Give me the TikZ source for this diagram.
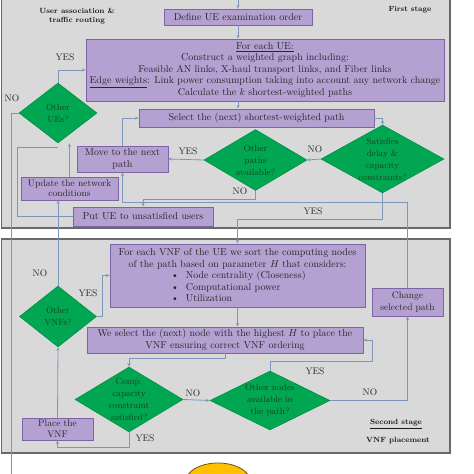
\documentclass[tikz,border=0pt]{standalone}
\usetikzlibrary{shapes.geometric,arrows.meta,calc}
\definecolor{panelfill}{RGB}{217,217,217}
\definecolor{paneldraw}{RGB}{105,105,105}
\definecolor{boxfill}{RGB}{181,160,210}
\definecolor{boxdraw}{RGB}{125,100,165}
\definecolor{dfill}{RGB}{0,166,81}
\definecolor{ddraw}{RGB}{0,140,65}
\definecolor{dtext}{RGB}{20,70,30}
\definecolor{conncol}{RGB}{125,150,185}
\definecolor{efill}{RGB}{255,192,0}
\definecolor{edraw}{RGB}{110,85,20}
\begin{document}
\begin{tikzpicture}[x=1pt,y=-1pt,
 box/.style={draw=boxdraw,fill=boxfill,line width=0.9pt,inner sep=1pt,align=center,font=\fontsize{10}{11.5}\selectfont,text=black!85},
 dia/.style={diamond,draw=ddraw,fill=dfill,line width=0.5pt,inner sep=-8pt,align=center,font=\fontsize{9}{12}\selectfont,text=dtext},
 link/.style={draw=conncol,line width=0.8pt},
 arr/.style={link,-{Stealth[length=3.5pt,width=3pt]}},
 lab/.style={font=\fontsize{9.5}{10}\selectfont,text=black!85},
 stg/.style={font=\fontsize{7.5}{9.5}\selectfont\bfseries,align=center,text=black!90}]
\useasboundingbox (0,0) rectangle (474,474);
\fill[white] (0,0) rectangle (474,474);
% panels
\draw[paneldraw,fill=panelfill,line width=1.2pt] (1.5,-5) rectangle (450,228);
\draw[paneldraw,fill=panelfill,line width=1.2pt] (1.5,239) rectangle (450,453);
% stage labels
\node[stg] (lbl1) at (77,16) {User association \&\\traffic routing};
\node[stg] (lbl2) at (410,10) {First stage};
\node[stg] (lbl3) at (396,424) {\underline{Second stage}};
\node[stg] (lbl4) at (398,441) {VNF placement};
% boxes
\node[box,minimum width=148pt,minimum height=16pt] (define) at (238,17) {Define UE examination order};
\node[box,minimum width=358pt,minimum height=62pt] (uebox) at (265,70) {\underline{For each UE:}\\Construct a weighted graph including:\\Feasible AN links, X-haul transport links, and Fiber links\\\underline{Edge weights}: Link power consumption taking into account any network change\\Calculate the $k$ shortest-weighted paths};
\node[box,minimum width=235pt,minimum height=18pt] (select) at (256.5,118) {Select the (next) shortest-weighted path};
\node[box,minimum width=91pt,minimum height=26pt] (move) at (122.5,159) {Move to the next\\path};
\node[box,minimum width=97pt,minimum height=23pt,font=\fontsize{9.5}{10.5}\selectfont] (update) at (69.5,188.5) {Update the network\\conditions};
\node[box,minimum width=140pt,minimum height=19pt] (putue) at (143,216.5) {Put UE to unsatisfied users};
\node[box,minimum width=71pt,minimum height=28pt,font=\fontsize{9.5}{12.5}\selectfont] (change) at (407.5,302) {Change\\selected path};
\node[box,minimum width=255pt,minimum height=63pt] (vnfbox) at (237.5,275.5) {For each VNF of the UE we sort the computing nodes\\of the path based on parameter $H$ that considers:\\\makebox[133pt][l]{\textbullet\hspace{7pt}Node centrality (Closeness)}\\\makebox[133pt][l]{\textbullet\hspace{7pt}Computational power}\\\makebox[133pt][l]{\textbullet\hspace{7pt}Utilization}};
\node[box,minimum width=276pt,minimum height=26pt] (selnode) at (225,340) {We select the (next) node with the highest $H$ to place the\\VNF ensuring correct VNF ordering};
\node[box,minimum width=71pt,minimum height=22pt,font=\fontsize{9.5}{10.5}\selectfont] (place) at (57.5,429) {Place the\\VNF};
% diamonds
\node[dia,minimum width=78pt,minimum height=60pt] (ues) at (58,113) {Other\\UEs?};
\node[dia,minimum width=103pt,minimum height=61pt] (paths) at (255.5,160) {Other\\paths\\available?};
\node[dia,minimum width=123pt,minimum height=68pt] (sat) at (382.5,159) {Satisfies\\delay \&\\capacity\\constraints?};
\node[dia,minimum width=77pt,minimum height=61pt] (vnfs) at (58,316.5) {Other\\VNFs?};
\node[dia,minimum width=108pt,minimum height=65pt] (comp) at (129,399.5) {Comp.\\capacity\\constraint\\satisfied?};
\node[dia,minimum width=120pt,minimum height=59pt] (nodes) at (270,400.5) {Other nodes\\available in\\the path?};
% end ellipse
\node[ellipse,draw=edraw,fill=efill,line width=0.8pt,minimum width=64pt,minimum height=36pt] (endn) at (218,481) {};
% coordinates
\coordinate (top) at (238,-6);
\coordinate (j1) at (17,147);
% connectors first stage
\draw[arr] (top) -- (define.north);
\draw[arr] (define.south) -- (define.south |- uebox.north);
\draw[arr] (define.south |- uebox.south) -- (define.south |- select.north);
\draw[arr] (ues.north) |- (uebox.west);
\node[lab] (yes1) at (65,57) {YES};
\draw[arr] (ues.west) -- ++(-7,0) |- (endn.west);
\node[lab] (no1) at (12,98) {NO};
\draw[arr] (select.east) -| (sat.north);
\draw[arr] (sat.west) -- (paths.east);
\node[lab] (no2) at (315,149) {NO};
\draw[arr] (paths.west) -- (move.east);
\node[lab] (yes2) at (188,151) {YES};
\draw[arr] (move.north) |- (select.west);
\draw[arr] (paths.south) -- ++(0,9) -| (putue.north);
\node[lab] (no3) at (240,191) {NO};
\draw[arr] (sat.south) |- ($(vnfbox.north |- 0,219)$) -- (vnfbox.north);
\node[lab] (yes3) at (313,211) {YES};
\draw[arr] (change.north) |- ($(move.south |- 0,202)$) -- (move.south);
\draw[link] (putue.west) -| (j1) -- (j1 -| ues.south);
\draw[arr] (update.north) -- (update.north |- ues.south);
\draw[arr] (vnfs.north) -- (vnfs.north |- update.south);
\node[lab] (no4) at (40,273) {NO};
% connectors second stage
\draw[arr] (vnfs.east) -- ++(6,0) |- (vnfbox.west);
\node[lab] (yes4) at (88,293) {YES};
\draw[arr] (vnfbox.south) -- (vnfbox.south |- selnode.north);
\draw[arr] (selnode.south) -- ++(0,5) -| (comp.north);
\draw[arr] (comp.east) -- (nodes.west);
\node[lab] (no5) at (193,393) {NO};
\draw[arr] (nodes.north) -- ++(0,-9) -| ($(selnode.east)+(9,0)$) -- (selnode.east);
\node[lab] (yes5) at (315,371) {YES};
\draw[arr] (nodes.east) -| (change.south);
\node[lab] (no6) at (370,392) {NO};
\draw[arr] (comp.south) |- ($(place.south |- 0,447)$) -- (place.south);
\node[lab] (yes6) at (145,438) {YES};
\draw[arr] (place.north) -- (vnfs.south);
\end{tikzpicture}
\end{document}
